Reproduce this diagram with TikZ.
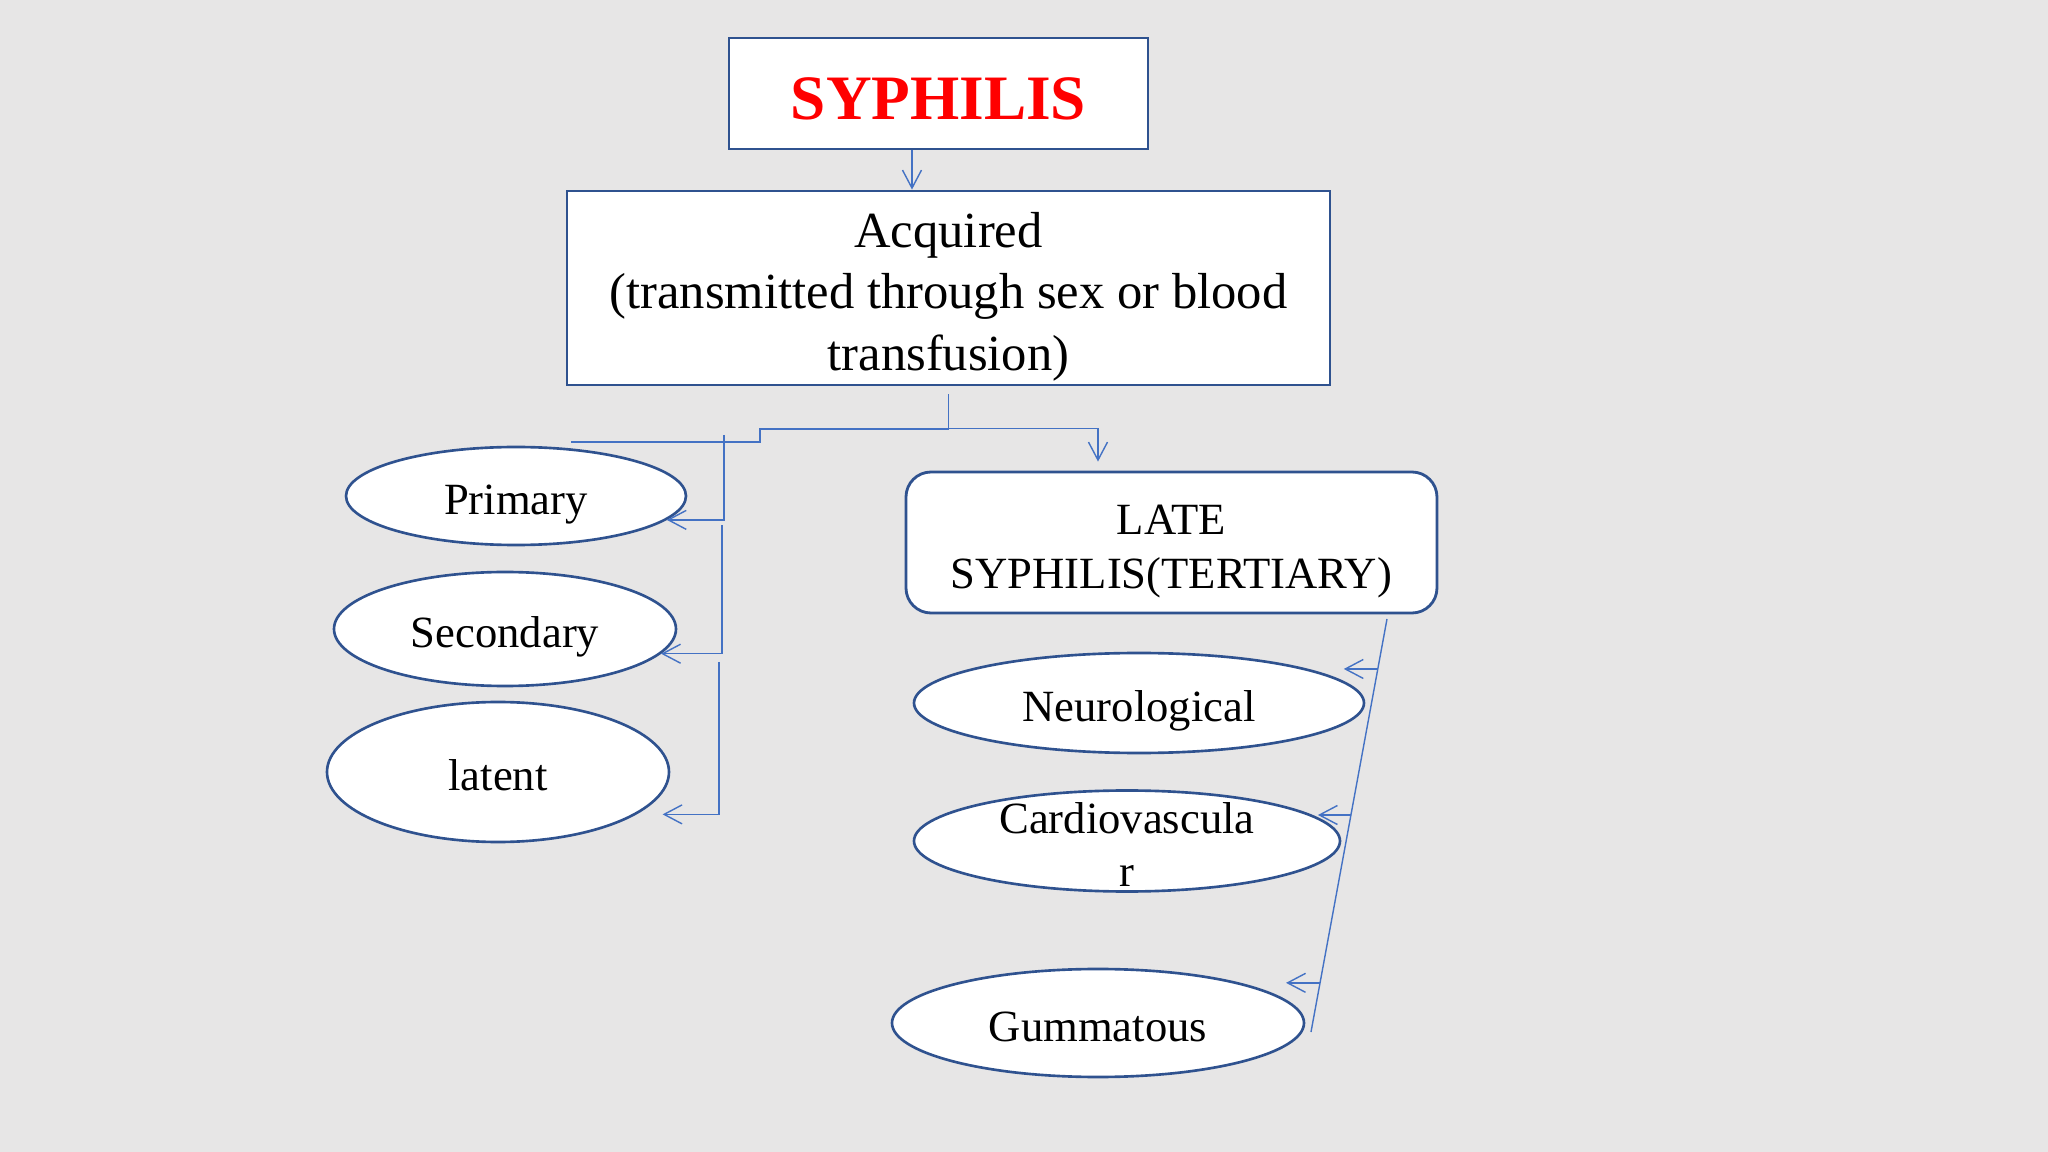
\documentclass[tikz,border=0pt]{standalone}
\usepackage{fontspec}
\setmainfont{Liberation Serif}
\usetikzlibrary{shapes,arrows.meta,positioning,calc}
\definecolor{boxblue}{RGB}{47,82,143}
\definecolor{linkblue}{RGB}{68,114,196}
\definecolor{slidegray}{RGB}{231,230,230}
\definecolor{titlered}{RGB}{255,0,0}

\begin{document}
\begin{tikzpicture}[
    boxnode/.style={draw=boxblue, line width=0.8pt, fill=white, inner sep=0pt, align=center, font=\fontsize{12.7}{15.3}\selectfont},
    ovalnode/.style={ellipse, draw=boxblue, line width=0.75pt, fill=white, inner sep=0pt, text height=12.7pt, text depth=2pt, font=\fontsize{12.7}{15.3}\selectfont},
    link/.style={draw=linkblue, line width=0.4pt},
    arr/.style={-{Straight Barb[length=1.8mm,width=1.9mm]}}]
    \fill[slidegray] (0,0) rectangle (20.48,-11.52);

    \node[boxnode, minimum width=4.19cm, minimum height=1.11cm, text=titlered, font=\fontsize{18}{20}\selectfont\bfseries] (syph) at (9.385,-0.935) {\rule{0pt}{15pt}SYPHILIS};
    \node[boxnode, minimum width=7.63cm, minimum height=1.94cm, font=\fontsize{14.4}{17.4}\selectfont] (acq) at (9.485,-2.88) {\rule{0pt}{15pt}Acquired\\(transmitted through sex or blood\\transfusion)};
    \node[boxnode, rounded corners=0.25cm, minimum width=5.31cm, minimum height=1.41cm] (late) at (11.715,-5.425) {\rule{0pt}{13.6pt}LATE\\SYPHILIS(TERTIARY)};

    % early stages
    \node[ovalnode, minimum width=3.40cm, minimum height=0.98cm] (prim) at (5.16,-4.96) {Primary};
    \node[ovalnode, minimum width=3.42cm, minimum height=1.14cm] (sec) at (5.05,-6.29) {Secondary};
    \node[ovalnode, minimum width=3.42cm, minimum height=1.40cm] (lat) at (4.98,-7.72) {latent};

    % late stages
    \node[ovalnode, minimum width=4.50cm, minimum height=1.00cm] (neuro) at (11.39,-7.03) {Neurological};
    \node[ovalnode, minimum width=4.26cm, minimum height=1.01cm] (cardio) at (11.27,-8.41) {\raisebox{0pt}[0pt][0pt]{\begin{tabular}{@{}c@{}}Cardiovascula\\r\end{tabular}}};
    \node[ovalnode, minimum width=4.12cm, minimum height=1.08cm] (gumm) at (10.98,-10.23) {Gummatous};

    \draw[link,arr] ([xshift=-2.65mm]syph.south) -- ([xshift=-2.65mm]syph.south |- acq.north);

    \coordinate (j0) at ([yshift=-0.8mm]acq.south);
    \coordinate (jn) at (9.485,-4.285);
    \draw[link] (j0) -- (jn) |- (7.60,-4.29) |- (5.71,-4.42);
    \draw[link,arr] (jn) -| ([xshift=-7.35mm,yshift=0.9mm]late.north);

    \draw[link,arr] (7.24,-4.35) |- (prim.-9);
    \draw[link,arr] (7.22,-5.25) |- (sec.-9);
    \draw[link,arr] (7.19,-6.62) |- ([xshift=2.6mm]lat.-17);

    \coordinate (rv1) at (13.87,-6.19);
    \coordinate (rv2) at (13.11,-10.32);
    \draw[link] (rv1) -- (rv2);
    \draw[link,arr] ($(rv1)!0.121!(rv2)$) -- ++(-0.34,0);
    \draw[link,arr] ($(rv1)!0.4746!(rv2)$) -- ++(-0.33,0);
    \draw[link,arr] ($(rv1)!0.881!(rv2)$) -- ++(-0.34,0);
\end{tikzpicture}
\end{document}
